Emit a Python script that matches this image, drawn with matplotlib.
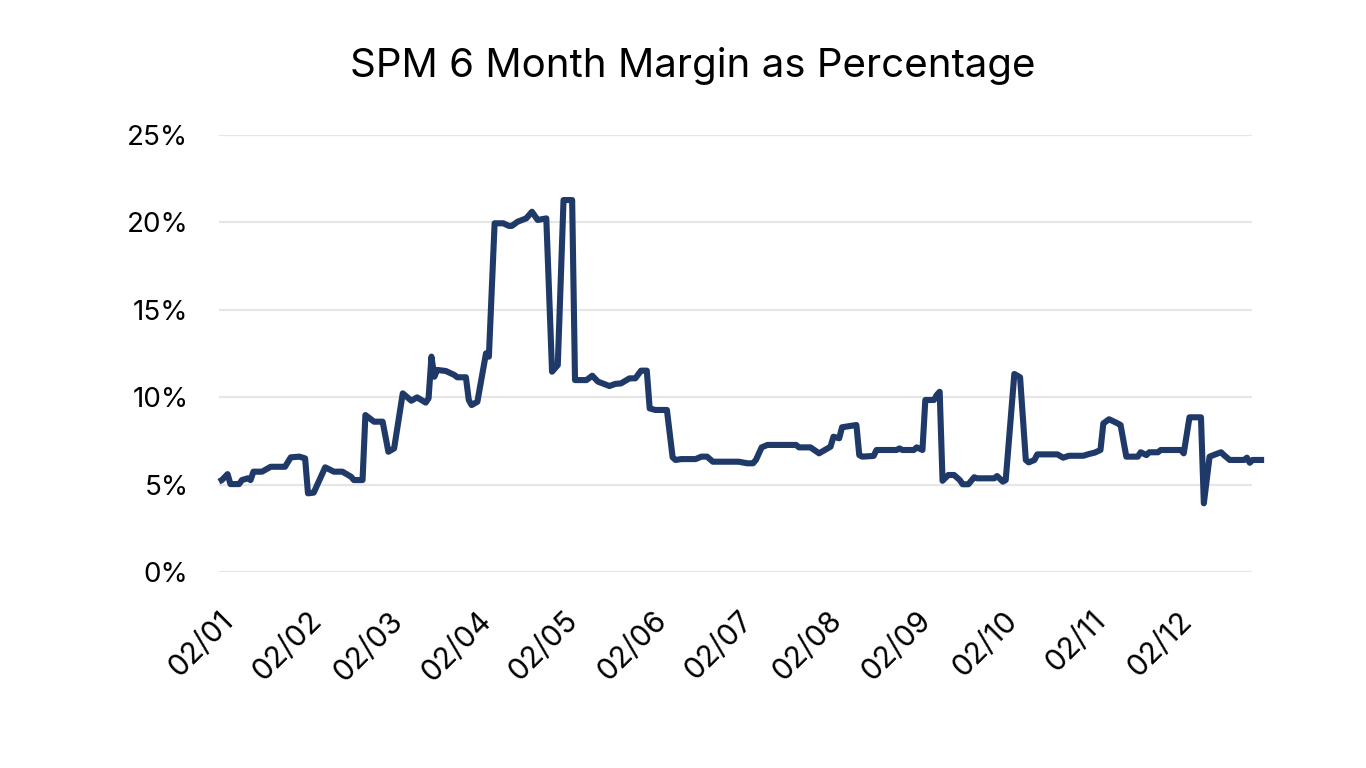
import numpy as np
import matplotlib
matplotlib.use("Agg")
import matplotlib.pyplot as plt
import matplotlib.dates as mdates
from matplotlib.ticker import FuncFormatter

plt.rcParams['font.family'] = ['Inter', 'DejaVu Sans']

# day offsets from the first observation (2 Jan) and the margin in percent
start_date = np.datetime64('2023-01-02')
day_offset = [0, 1, 3, 4, 7, 8, 10, 11, 12, 15, 18, 23, 25, 28, 30, 31, 33, 37, 40, 43,
              46, 47, 50, 51, 54, 57, 59, 61, 64, 67, 69, 72, 73, 74, 75, 76, 79, 82, 83, 86,
              87, 88, 90, 93, 94, 96, 99, 101, 102, 104, 107, 109, 111, 114, 116, 118, 120, 123, 124, 128,
              130, 132, 136, 138, 140, 143, 145, 147, 149, 150, 152, 156, 158, 159, 161, 166, 168, 170, 172, 181,
              184, 186, 187, 189, 191, 201, 202, 206, 209, 213, 214, 216, 217, 222, 223, 224, 228, 229, 236, 237,
              238, 242, 243, 245, 246, 249, 250, 251, 252, 254, 256, 258, 259, 261, 263, 264, 270, 271, 273, 274,
              277, 279, 281, 282, 284, 285, 292, 294, 296, 301, 303, 305, 307, 308, 310, 313, 314, 316, 320, 321,
              323, 324, 327, 328, 335, 336, 338, 342, 343, 345, 347, 349, 350, 352, 357, 358, 359, 360, 364]
margin_pct = [5.17, 5.26, 5.60, 5.03, 5.03, 5.26, 5.36, 5.26, 5.74, 5.74, 6.02, 6.02, 6.56, 6.60, 6.50, 4.50, 4.54, 5.99, 5.74, 5.74,
              5.45, 5.26, 5.26, 8.98, 8.60, 8.60, 6.88, 7.07, 10.22, 9.80, 9.99, 9.69, 9.94, 12.32, 11.17, 11.56, 11.50, 11.27, 11.14, 11.14,
              9.84, 9.55, 9.74, 12.51, 12.32, 19.95, 19.95, 19.80, 19.80, 20.04, 20.23, 20.61, 20.14, 20.23, 11.46, 11.84, 21.28, 21.28, 10.98, 10.98,
              11.23, 10.89, 10.64, 10.76, 10.79, 11.08, 11.08, 11.52, 11.52, 9.36, 9.27, 9.27, 6.56, 6.41, 6.46, 6.46, 6.60, 6.60, 6.31, 6.31,
              6.22, 6.22, 6.41, 7.13, 7.27, 7.27, 7.13, 7.13, 6.79, 7.17, 7.74, 7.65, 8.28, 8.41, 6.69, 6.60, 6.64, 6.98, 6.98, 7.07,
              6.98, 6.98, 7.13, 6.98, 9.84, 9.84, 10.13, 10.31, 5.22, 5.55, 5.55, 5.26, 5.02, 5.02, 5.42, 5.36, 5.36, 5.49, 5.17, 5.26,
              11.33, 11.14, 6.41, 6.27, 6.41, 6.73, 6.73, 6.54, 6.65, 6.65, 6.75, 6.83, 6.98, 8.50, 8.74, 8.50, 8.41, 6.60, 6.60, 6.85,
              6.69, 6.85, 6.85, 6.98, 6.98, 6.79, 8.85, 8.85, 3.93, 6.60, 6.73, 6.85, 6.69, 6.41, 6.41, 6.54, 6.25, 6.41, 6.41]
y_ticks = [0, 5, 10, 15, 20, 25]

dates = start_date + np.array(day_offset).astype('timedelta64[D]')
x = mdates.date2num(dates.astype('datetime64[s]').astype(object))
x0 = mdates.date2num(start_date.astype('datetime64[s]').astype(object))

fig = plt.figure(figsize=(13.66, 7.68), dpi=100)
ax = fig.add_axes([0.1603, 0.2552, 0.7563, 0.5690])

ax.plot(x, margin_pct, color='#1f3a68', linewidth=4.4, solid_joinstyle='round',
        solid_capstyle='butt', clip_on=False, zorder=3)

ax.set_xlim(x0, x0 + 359.8)
ax.set_ylim(0, 25)
ax.set_yticks(y_ticks)
ax.yaxis.set_major_formatter(FuncFormatter(lambda v, pos: f"{v:.0f}%"))
ax.xaxis.set_major_locator(mdates.MonthLocator(bymonthday=2))
ax.xaxis.set_major_formatter(mdates.DateFormatter('%d/%m'))

ax.grid(axis='y', color='#e6e6e6', linewidth=1.6)
ax.set_axisbelow(True)
for s in ax.spines.values():
    s.set_visible(False)
ax.tick_params(axis='y', length=0, labelsize=20, colors='black', pad=22)
ax.tick_params(axis='x', length=0, labelsize=21.5, colors='black', pad=25)
for lbl in ax.get_xticklabels():
    lbl.set_rotation(45)
    lbl.set_ha('right')
    lbl.set_va('top')
    lbl.set_rotation_mode('anchor')

fig.text(0.507, 0.914, 'SPM 6 Month Margin as Percentage', ha='center', va='center',
         fontsize=29, color='black')

fig.savefig('out.png', dpi=100)
